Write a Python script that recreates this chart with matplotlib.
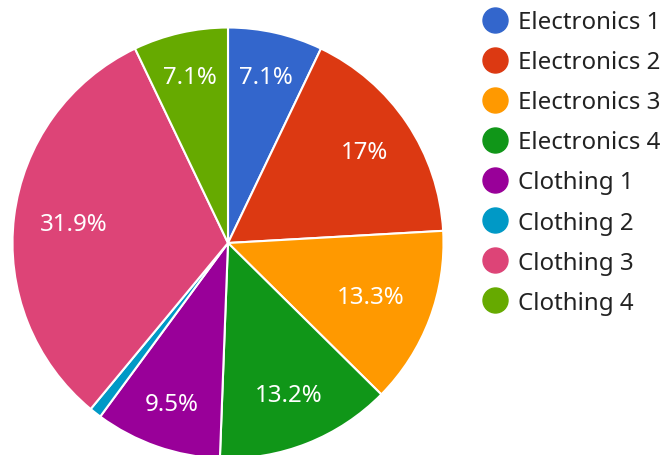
import matplotlib.pyplot as plt
from matplotlib.lines import Line2D
import numpy as np

plt.rcParams['font.family'] = ['Noto Sans', 'DejaVu Sans']

# slice data
categories = ['Electronics 1', 'Electronics 2', 'Electronics 3', 'Electronics 4',
              'Clothing 1', 'Clothing 2', 'Clothing 3', 'Clothing 4']
shares = [7.1, 17.0, 13.3, 13.2, 9.5, 0.9, 31.9, 7.1]
colors = ['#3366cc', '#dc3912', '#ff9900', '#109618',
          '#990099', '#0099c6', '#dd4477', '#66aa00']
# how far out each percentage label sits (fraction of radius)
label_dist = [0.79, 0.76, 0.71, 0.76, 0.79, 0.75, 0.72, 0.79]

W, H = 664, 456
fig = plt.figure(figsize=(W / 100, H / 100), dpi=100)

# pie centre (228, 244) px from top-left, radius ~215.5 px
r = 215.5
cx, cy = 228, H - 244
ax = fig.add_axes([(cx - r) / W, (cy - r) / H, 2 * r / W, 2 * r / H])

def fmt(p):
    if p < 2:
        return ''
    return f'{p:.1f}%'.replace('.0%', '%')

wedges, texts, autotexts = ax.pie(
    shares, colors=colors, startangle=90, counterclock=False,
    autopct=fmt, pctdistance=0.77, radius=1,
    wedgeprops=dict(edgecolor='white', linewidth=1.5),
    textprops=dict(color='white', fontsize=17.3))
for w, t, d in zip(wedges, autotexts, label_dist):
    mid = np.deg2rad((w.theta1 + w.theta2) / 2)
    t.set_position((d * np.cos(mid), d * np.sin(mid)))
ax.set_xlim(-1, 1)
ax.set_ylim(-1, 1)
ax.set_aspect('equal')
ax.axis('off')

handles = [Line2D([], [], marker='o', linestyle='none', markersize=18,
                  markerfacecolor=c, markeredgecolor=c) for c in colors]
fig.legend(handles, categories, loc='upper left',
           bbox_to_anchor=(471 / W, 1 + 1 / H), frameon=False,
           fontsize=17.3, handlelength=1.0, handletextpad=0.46,
           labelspacing=0.67, borderpad=0, labelcolor='#222222')

fig.savefig('out.png', dpi=100)
